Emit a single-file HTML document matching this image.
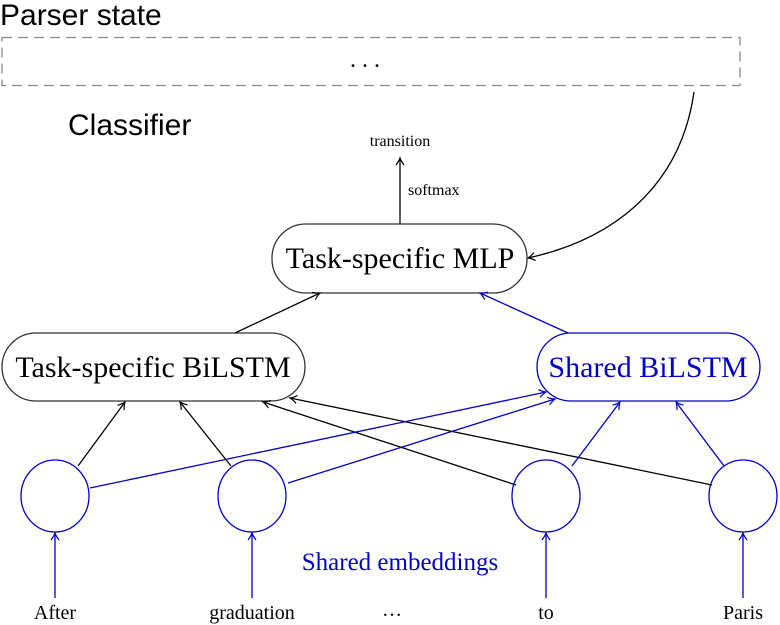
<!DOCTYPE html>
<html><head><meta charset="utf-8"><style>
html,body{margin:0;padding:0;background:#fff;width:780px;height:625px;overflow:hidden}
</style></head><body>
<svg width="780" height="625" viewBox="0 0 780 625" xmlns="http://www.w3.org/2000/svg" font-family="Liberation Serif, serif">
<defs>
<marker id="ak" markerWidth="10" markerHeight="10" refX="8" refY="5" orient="auto" markerUnits="userSpaceOnUse"><path d="M1,1 Q5,4 8,5 Q5,6 1,9" fill="none" stroke="#000" stroke-width="1.2"/></marker>
<marker id="ab" markerWidth="10" markerHeight="10" refX="8" refY="5" orient="auto" markerUnits="userSpaceOnUse"><path d="M1,1 Q5,4 8,5 Q5,6 1,9" fill="none" stroke="#00c" stroke-width="1.2"/></marker>
</defs>
<text x="0" y="25" font-size="30" font-family="Liberation Sans, sans-serif">Parser state</text>
<rect x="2" y="37.5" width="738" height="48" fill="none" stroke="#888" stroke-width="1.3" stroke-dasharray="10,6"/>
<text x="368" y="67" font-size="24" text-anchor="middle" letter-spacing="6">...</text>
<text x="68" y="135" font-size="30" font-family="Liberation Sans, sans-serif">Classifier</text>
<text x="400" y="146" font-size="16" text-anchor="middle">transition</text>
<text x="408" y="195" font-size="16">softmax</text>
<line x1="400" y1="224" x2="400" y2="158" stroke="#000" stroke-width="1.3" marker-end="url(#ak)"/>
<path d="M694,92 C680,190 610,240 528,258" fill="none" stroke="#000" stroke-width="1.3" marker-end="url(#ak)"/>
<rect x="272" y="224" width="255" height="69" rx="34" fill="none" stroke="#333" stroke-width="1.3"/>
<text x="400" y="268" font-size="30" text-anchor="middle">Task-specific MLP</text>
<rect x="2" y="333" width="303" height="68" rx="34" fill="none" stroke="#333" stroke-width="1.3"/>
<text x="153" y="377" font-size="30" text-anchor="middle">Task-specific BiLSTM</text>
<rect x="537" y="333" width="223" height="68" rx="34" fill="none" stroke="#00c" stroke-width="1.3"/>
<text x="648" y="377" font-size="30" text-anchor="middle" fill="#00c">Shared BiLSTM</text>
<line x1="235" y1="333" x2="320" y2="293" stroke="#000" stroke-width="1.3" marker-end="url(#ak)"/>
<line x1="568" y1="333" x2="480" y2="293" stroke="#00c" stroke-width="1.3" marker-end="url(#ab)"/>
<g stroke="#000" stroke-width="1.3" fill="none">
<line x1="78" y1="466" x2="125" y2="402" marker-end="url(#ak)"/>
<line x1="231" y1="466" x2="180" y2="402" marker-end="url(#ak)"/>
<line x1="516" y1="485" x2="263" y2="402" marker-end="url(#ak)"/>
<line x1="712" y1="485" x2="290" y2="398" marker-end="url(#ak)"/>
</g>
<g stroke="#00c" stroke-width="1.3" fill="none">
<line x1="90" y1="488" x2="546" y2="392" marker-end="url(#ab)"/>
<line x1="288" y1="483" x2="555" y2="399" marker-end="url(#ab)"/>
<line x1="572" y1="466" x2="620" y2="402" marker-end="url(#ab)"/>
<line x1="724" y1="466" x2="676" y2="402" marker-end="url(#ab)"/>
<ellipse cx="55" cy="496" rx="34" ry="36"/>
<ellipse cx="252" cy="496" rx="34" ry="36"/>
<ellipse cx="546" cy="496" rx="34" ry="36"/>
<ellipse cx="743" cy="496" rx="34" ry="36"/>
<line x1="55" y1="598" x2="55" y2="533" marker-end="url(#ab)"/>
<line x1="252" y1="598" x2="252" y2="533" marker-end="url(#ab)"/>
<line x1="546" y1="598" x2="546" y2="533" marker-end="url(#ab)"/>
<line x1="743" y1="598" x2="743" y2="533" marker-end="url(#ab)"/>
</g>
<text x="400" y="570" font-size="25" text-anchor="middle" fill="#00c">Shared embeddings</text>
<g font-size="20" text-anchor="middle">
<text x="55" y="619">After</text>
<text x="252" y="619">graduation</text>
<text x="392" y="616">…</text>
<text x="546" y="619">to</text>
<text x="743" y="619">Paris</text>
</g>
</svg>
</body></html>
